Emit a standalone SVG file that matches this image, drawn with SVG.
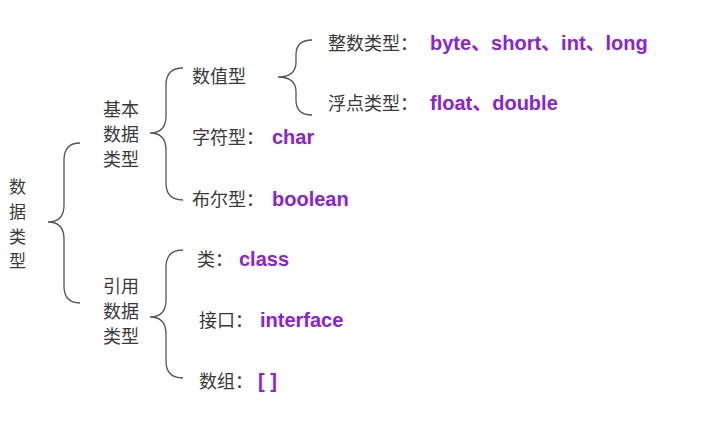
<svg xmlns="http://www.w3.org/2000/svg" width="701" height="426" viewBox="0 0 701 426">
<style>
.c{font-family:"Noto Sans CJK SC","Liberation Sans",sans-serif;font-size:18px;fill:#3a3a3a}
.r{font-size:17px}
.p{font-family:"Liberation Sans","Noto Sans CJK SC",sans-serif;font-weight:bold;font-size:20px;fill:#8a22d8}
.b{fill:none;stroke:#555;stroke-width:1.3}
</style>
<rect width="701" height="426" fill="#fff"/>
<g id="connectors">
<path class="b" d="M80,143 Q64,143 64,160 L64,205 Q64,222 48,222 Q64,222 64,239 L64,286 Q64,303 80,303"/>
<path class="b" d="M183,68 Q166,68 166,85 L166,116 Q166,133 150,133 Q166,133 166,150 L166,183 Q166,200 183,200"/>
<path class="b" d="M183,250 Q166,250 166,267 L166,300 Q166,317 150,317 Q166,317 166,334 L166,361 Q166,378 183,378"/>
<path class="b" d="M312,40 Q296,40 296,55 L296,62 Q296,77 278,77 Q296,77 296,92 L296,100 Q296,115 312,115"/>
</g>
<g id="root"><text class="c r" x="9" y="193">数</text><text class="c r" x="9" y="218">据</text><text class="c r" x="9" y="243">类</text><text class="c r" x="9" y="267">型</text></g>
<g id="basic"><text class="c" x="103" y="116">基本</text><text class="c" x="103" y="141">数据</text><text class="c" x="103" y="166">类型</text></g>
<g id="ref"><text class="c" x="103" y="293">引用</text><text class="c" x="103" y="318">数据</text><text class="c" x="103" y="343">类型</text></g>
<g id="num"><text class="c" x="192" y="83">数值型</text></g>
<g id="int"><text class="c" x="328" y="50">整数类型：</text><text class="p" x="430" y="50">byte、short、int、long</text></g>
<g id="float"><text class="c" x="328" y="110">浮点类型：</text><text class="p" x="430" y="110">float、double</text></g>
<g id="char"><text class="c" x="192" y="144">字符型：</text><text class="p" x="272" y="144">char</text></g>
<g id="bool"><text class="c" x="192" y="206">布尔型：</text><text class="p" x="272" y="206">boolean</text></g>
<g id="class"><text class="c" x="197" y="266">类：</text><text class="p" x="239" y="266">class</text></g>
<g id="iface"><text class="c" x="199" y="327">接口：</text><text class="p" x="260" y="327">interface</text></g>
<g id="arr"><text class="c" x="199" y="388">数组：</text><text class="p" x="258" y="388">[ ]</text></g>
</svg>
